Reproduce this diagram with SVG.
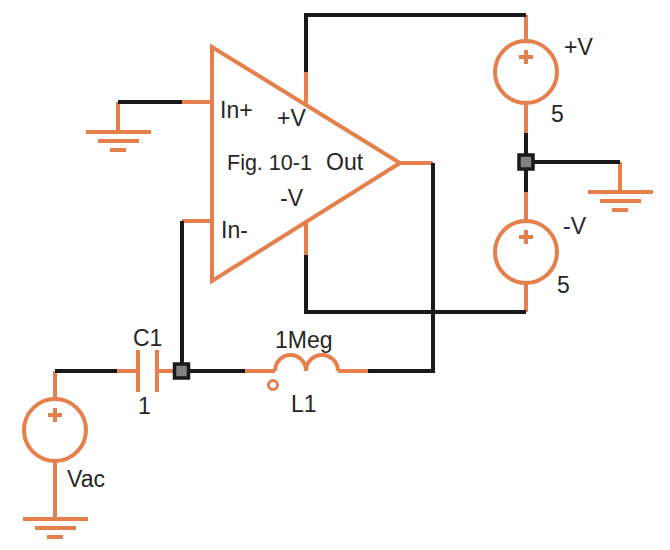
<svg xmlns="http://www.w3.org/2000/svg" width="670" height="550" viewBox="0 0 670 550">
<style>
.o{fill:none;stroke:#e5804c;stroke-width:4}
.w{fill:none;stroke:#1a1a1a;stroke-width:4}
.t{font-family:"Liberation Sans",Arial,sans-serif;font-size:23px;fill:#262626}
.j{fill:#808080;stroke:#1a1a1a;stroke-width:3.5}
</style>
<defs>
<g id="gnd"><path class="o" d="M-32 0H33M-20 9H21M-8 18H8"/></g>
<g id="src"><circle class="o" r="31"/><path class="o" d="M-7 -15H7M0 -22V-8"/></g>
</defs>
<rect width="670" height="550" fill="#fff"/>
<g id="connectors">
<path class="o" d="M118 132V102M182 102H212M182 221H212M306 103V72M526 15V42M526 103V133M526 192V221M526 283V312M306 255V222M400 163H433M368 371H338M275 371H245M55 400V371M620 162V192M117 371H137M157 371H181M55 461V519"/>
<path class="w" d="M118 102H182M182 221V371M306 72V15H526M526 133V192M526 162H620M526 312H306V255M433 163V371H368M181 371H245M55 371H117"/>
</g>
<g id="opamp"><path class="o" d="M212 47V281L400 163Z"/>
<text class="t" x="220" y="118">In+</text><text class="t" x="277" y="126">+V</text><text class="t" x="227" y="170" style="font-size:21.5px">Fig. 10-1</text><text class="t" x="326" y="170">Out</text><text class="t" x="280" y="206">-V</text><text class="t" x="221" y="238">In-</text></g>
<g id="v-plus"><use href="#src" x="526" y="72"/><text class="t" x="564" y="55">+V</text><text class="t" x="551" y="122">5</text></g>
<g id="v-minus"><use href="#src" x="526" y="252"/><text class="t" x="563" y="234">-V</text><text class="t" x="557" y="293">5</text></g>
<g id="vac"><use href="#src" x="55" y="430"/><text class="t" x="67" y="487">Vac</text></g>
<g id="gnd1"><use href="#gnd" x="118" y="132"/></g>
<g id="gnd2"><use href="#gnd" x="620" y="192"/></g>
<g id="gnd3"><use href="#gnd" x="55" y="519"/></g>
<g id="c1"><path class="o" d="M138 350V392M157 350V392"/><text class="t" x="133" y="346">C1</text><text class="t" x="138" y="414">1</text></g>
<g id="l1"><path class="o" d="M275 371A15.5 16 0 0 1 306 371A16 16 0 0 1 338 371"/><circle class="o" cx="273" cy="385" r="4.5" style="stroke-width:3"/><text class="t" x="275" y="348">1Meg</text><text class="t" x="291" y="412">L1</text></g>
<g id="j1"><rect class="j" x="174.500" y="364" width="14" height="14"/></g>
<g id="j2"><rect class="j" x="519" y="155" width="14" height="14"/></g>
</svg>
